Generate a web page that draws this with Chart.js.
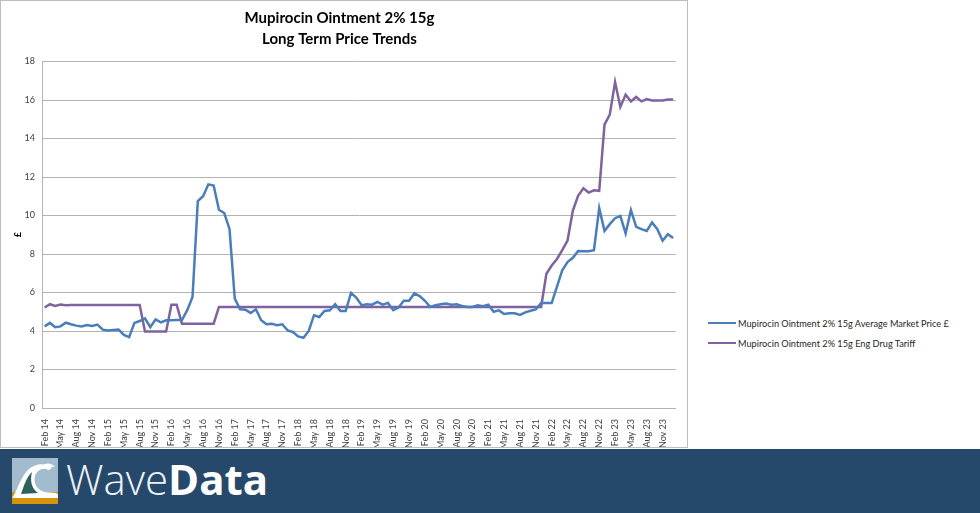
<!DOCTYPE html>
<html>
<head>
<meta charset="utf-8">
<script src="https://cdn.jsdelivr.net/npm/chart.js@4.4.1/dist/chart.umd.min.js"></script>
<style>
  html, body { margin: 0; padding: 0; background: #fff; }
  body { width: 980px; height: 513px; position: relative; overflow: hidden; font-family: Lato, "Open Sans", sans-serif; }
  #box { position: absolute; left: 0; top: 0; width: 688px; height: 448px; border: 1px solid #bdbdbd; box-sizing: border-box; background: #fff; }
  #wrap { position: absolute; left: 0; top: 0; width: 686px; height: 446px; }
  #legend { position: absolute; left: 708px; top: 313px; font-size: 9.2px; color: #262626; }
  .lg-row { height: 20px; display: flex; align-items: center; white-space: nowrap; }
  .lg-line { width: 28px; height: 2.5px; margin-right: 2px; }
  #banner { position: absolute; left: 0; top: 449px; width: 980px; height: 64px; background: #26496b; }
  #logo { position: absolute; left: 12px; top: 9px; }
  #brand { position: absolute; left: 66px; top: 2px; font-family: "Open Sans", Lato, sans-serif; font-size: 42px; line-height: 56px; color: #eef3f8; }
  #brand b { font-weight: 700; color: #fff; }
  #brand span { font-weight: 300; }
</style>
</head>
<body>
<div id="box"><div id="wrap"><canvas id="chart"></canvas></div></div>
<div id="legend"></div>
<div id="banner">
  <svg id="logo" width="46" height="46" viewBox="0 0 46 46">
    <rect x="0" y="0" width="46" height="46" fill="#a3bccd"/>
    <rect x="0" y="34" width="46" height="12" fill="#d8930e"/>
    <path d="M0,40 C5,34 7,22 15,13 C22,5 33,4 40,10 L37,12 C31,9 25,12 23,18 C21,25 25,32 33,34 C38,35 43,34 46,36 L46,40 Z" fill="#ffffff"/>
    <path d="M9,36 C12,28 14,20 20,14 C18,22 19,30 26,35 Z" fill="#2e615d"/>
    <path d="M30,8 C34,4 40,5 43,9 C40,8 37,9 36,12 Z" fill="#ffffff"/>
  </svg>
  <div id="brand"><span>Wave</span><b>Data</b></div>
</div>
<script>
// axe des mois : fév. 2014 -> janv. 2024
const MONTHS = ["Jan", "Feb", "Mar", "Apr", "May", "Jun", "Jul", "Aug", "Sep", "Oct", "Nov", "Dec"];
const FIRST_YEAR = 14;
const FIRST_MONTH = 1; // Feb
const N_POINTS = 120;

const labels = [];
for (let i = 0; i < N_POINTS; i++) {
    const m = (FIRST_MONTH + i) % 12;
    const y = FIRST_YEAR + Math.floor((FIRST_MONTH + i) / 12);
    labels.push(MONTHS[m] + " " + y);
}

const yTicks = [0, 2, 4, 6, 8, 10, 12, 14, 16, 18];

// prix moyen du marché (£)
const marketPrice = [
    4.24, 4.42, 4.20, 4.24, 4.43, 4.35, 4.28, 4.23, 4.31, 4.26, 4.33, 4.07,
    4.03, 4.05, 4.07, 3.80, 3.68, 4.42, 4.52, 4.66, 4.20, 4.60, 4.45, 4.56,
    4.56, 4.57, 4.57, 5.08, 5.77, 10.75, 11.00, 11.62, 11.56, 10.30, 10.13, 9.30,
    5.68, 5.13, 5.11, 4.94, 5.13, 4.56, 4.35, 4.38, 4.30, 4.35, 4.03, 3.95,
    3.72, 3.65, 4.00, 4.82, 4.73, 5.04, 5.08, 5.39, 5.04, 5.04, 5.98, 5.74,
    5.34, 5.39, 5.37, 5.51, 5.37, 5.46, 5.08, 5.22, 5.57, 5.57, 5.95, 5.81,
    5.57, 5.25, 5.34, 5.39, 5.43, 5.37, 5.39, 5.30, 5.25, 5.25, 5.34, 5.29,
    5.37, 5.00, 5.07, 4.88, 4.92, 4.92, 4.84, 4.97, 5.05, 5.12, 5.45, 5.45,
    5.45, 6.30, 7.15, 7.58, 7.80, 8.15, 8.14, 8.14, 8.20, 10.38, 9.20, 9.55,
    9.86, 9.98, 9.07, 10.28, 9.41, 9.29, 9.20, 9.64, 9.29, 8.69, 9.03, 8.83
];

// prix du Drug Tariff
const drugTariff = [
    5.22, 5.39, 5.30, 5.37, 5.34, 5.35, 5.35, 5.35, 5.35, 5.35, 5.35, 5.35,
    5.35, 5.35, 5.35, 5.35, 5.35, 5.35, 5.35, 3.97, 3.97, 3.97, 3.97, 3.97,
    5.36, 5.36, 4.38, 4.38, 4.38, 4.38, 4.38, 4.38, 4.38, 5.25, 5.25, 5.25,
    5.25, 5.25, 5.25, 5.25, 5.25, 5.25, 5.25, 5.25, 5.25, 5.25, 5.25, 5.25,
    5.25, 5.25, 5.25, 5.25, 5.25, 5.25, 5.25, 5.25, 5.25, 5.25, 5.25, 5.25,
    5.25, 5.25, 5.25, 5.25, 5.25, 5.25, 5.25, 5.25, 5.25, 5.25, 5.25, 5.25,
    5.25, 5.25, 5.25, 5.25, 5.25, 5.25, 5.25, 5.25, 5.25, 5.25, 5.25, 5.25,
    5.25, 5.25, 5.25, 5.25, 5.25, 5.25, 5.25, 5.25, 5.25, 5.25, 5.25, 6.97,
    7.40, 7.74, 8.20, 8.70, 10.24, 11.02, 11.41, 11.19, 11.31, 11.28, 14.72, 15.24,
    16.93, 15.64, 16.28, 15.93, 16.16, 15.93, 16.05, 15.98, 15.98, 15.98, 16.02, 16.02
];

const seriesNames = [
    "Mupirocin Ointment 2% 15g Average Market Price £",
    "Mupirocin Ointment 2% 15g Eng Drug Tariff"
];
const colors = ["#4a7ebb", "#7f63a1"];
const tickFont = { family: "Lato, 'Open Sans', sans-serif", size: 9 };

const chart = new Chart(document.getElementById("chart"), {
    type: "line",
    data: {
        labels: labels,
        datasets: [marketPrice, drugTariff].map((values, i) => ({
            label: seriesNames[i],
            data: values,
            borderColor: colors[i],
            backgroundColor: colors[i],
            borderWidth: 2.5,
            pointRadius: 0,
            tension: 0
        }))
    },
    options: {
        responsive: true,
        maintainAspectRatio: false,
        animation: false,
        layout: { padding: { left: 0, right: 9, top: 0, bottom: 0 } },
        plugins: {
            legend: { display: false },
            tooltip: { enabled: false },
            title: {
                display: true,
                text: ["Mupirocin Ointment 2% 15g", "Long Term Price Trends"],
                color: "#000",
                font: { family: "Lato, 'Open Sans', sans-serif", size: 15, weight: "bold", lineHeight: 1.45 },
                padding: { top: 6, bottom: 11 }
            }
        },
        scales: {
            x: {
                offset: true,
                grid: { display: false },
                border: { display: true, color: "#b3b3b3" },
                afterFit: s => { s.height = 39; },
                ticks: {
                    autoSkip: false,
                    minRotation: 90,
                    maxRotation: 90,
                    padding: 3,
                    color: "#404040",
                    font: tickFont,
                    callback: (v, i) => i % 3 === 0 ? labels[i] : ""
                }
            },
            y: {
                min: 0,
                max: 18,
                afterFit: s => { s.width = 41; },
                afterBuildTicks: s => { s.ticks = yTicks.map(v => ({ value: v })); },
                grid: { color: "#b3b3b3", drawTicks: false },
                border: { display: true, color: "#b3b3b3" },
                ticks: { padding: 7, color: "#404040", font: tickFont },
                title: {
                    display: true,
                    text: "£",
                    color: "#000",
                    font: { family: "Lato, 'Open Sans', sans-serif", size: 9, weight: "bold" },
                    padding: { top: 12, bottom: 0 }
                }
            }
        }
    }
});

// légende HTML à droite du cadre
const legendBox = document.getElementById("legend");
chart.data.datasets.forEach(ds => {
    const row = document.createElement("div");
    row.className = "lg-row";
    row.innerHTML = `<div class="lg-line" style="background:${ds.borderColor}"></div><span>${ds.label}</span>`;
    legendBox.appendChild(row);
});
</script>
</body>
</html>
